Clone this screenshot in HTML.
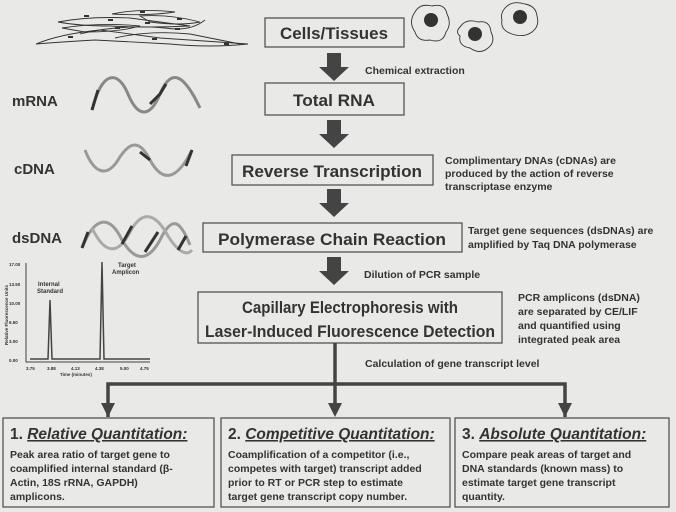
<!DOCTYPE html>
<html><head><meta charset="utf-8"><style>
body{margin:0;background:#fff}
svg{display:block}
text{font-family:"Liberation Sans",Arial,sans-serif;fill:#333;font-weight:bold}
</style></head><body>
<svg width="676" height="512" viewBox="0 0 676 512" xmlns="http://www.w3.org/2000/svg">
<rect width="676" height="512" fill="#e9e9e7"/>
<!-- cell sheet -->
<g fill="none" stroke="#333" stroke-width="0.9">
<path d="M36,44 Q60,34 100,30 Q130,34 160,38 Q190,40 248,44 Q210,48 170,44 Q130,42 95,40 Q60,42 36,44Z"/>
<path d="M58,22 Q90,16 130,18 Q160,22 190,26 Q150,28 110,26 Q80,26 58,22Z"/>
<path d="M62,28 Q100,22 140,26 Q120,32 85,32Z"/>
<path d="M112,14 Q140,8 175,12 Q150,16 112,14Z"/>
<path d="M115,38 Q150,30 190,34 Q220,40 240,44"/>
<path d="M80,34 Q120,24 165,28 Q190,32 205,20"/>
<path d="M140,16 Q170,14 200,22 Q180,26 150,22Z"/>
</g>
<g fill="#333"><rect x="68" y="36" width="5" height="2"/><rect x="84" y="15" width="5" height="2"/><rect x="108" y="19" width="5" height="2"/><rect x="140" y="11" width="5" height="2"/><rect x="145" y="22" width="5" height="2"/><rect x="115" y="27" width="5" height="2"/><rect x="175" y="28" width="5" height="2"/><rect x="152" y="38" width="5" height="2"/><rect x="177" y="18" width="5" height="2"/><rect x="224" y="43" width="5" height="2"/></g>
<!-- round cells -->
<g fill="none" stroke="#333" stroke-width="0.9">
<path d="M415,12 Q420,3 432,6 Q445,3 447,14 Q452,24 446,32 Q443,44 430,40 Q418,42 415,32 Q408,22 415,12Z"/>
<path d="M460,27 Q466,18 478,22 Q490,20 491,32 Q496,42 488,48 Q480,55 470,48 Q458,46 460,36 Q455,32 460,27Z"/>
<path d="M505,8 Q512,0 525,4 Q536,6 537,16 Q540,26 532,32 Q524,38 512,34 Q500,30 502,20 Q500,14 505,8Z"/>
</g>
<circle cx="431" cy="20" r="7" fill="#333"/><circle cx="475" cy="34" r="7" fill="#333"/><circle cx="520" cy="17" r="7" fill="#333"/>
<!-- waves -->
<g fill="none" stroke-width="3">
<path d="M92,110 C102,70 118,70 128,94 C138,118 150,118 160,94 C170,70 182,70 200,108" stroke="#888"/>
<path d="M92,110 L98,90 M150,104 L160,94 L166,84" stroke="#333"/>
<path d="M85,150 C95,176 108,176 118,160 C130,140 140,140 150,160 C162,182 176,182 192,150" stroke="#999"/>
<path d="M140,152 L150,160 M186,166 L192,150" stroke="#333"/>
<path d="M82,248 C95,215 110,215 122,240 C135,262 148,262 160,240 C172,215 180,220 190,245" stroke="#999"/>
<path d="M92,228 C105,255 118,255 130,232 C142,210 155,212 168,236 C180,255 188,255 192,250" stroke="#aaa"/>
<path d="M82,248 L88,232 M122,244 L132,226 M145,252 L158,232 M178,250 L186,236" stroke="#333"/>
</g>
<text x="12" y="106" font-size="15">mRNA</text>
<text x="14" y="174" font-size="15">cDNA</text>
<text x="12" y="243" font-size="15">dsDNA</text>
<!-- boxes -->
<g fill="none" stroke="#555" stroke-width="1.3">
<rect x="265" y="18" width="139" height="29"/>
<rect x="265" y="83" width="139" height="32"/>
<rect x="232" y="155" width="201" height="30"/>
<rect x="203" y="223" width="259" height="29"/>
<rect x="198" y="292" width="304" height="51"/>
<rect x="3" y="418" width="211" height="89"/>
<rect x="221" y="418" width="229" height="89"/>
<rect x="455" y="418" width="214" height="89"/>
</g>
<g font-size="17" text-anchor="middle">
<text x="334" y="39" textLength="108" lengthAdjust="spacingAndGlyphs">Cells/Tissues</text>
<text x="334" y="106" textLength="82" lengthAdjust="spacingAndGlyphs">Total RNA</text>
<text x="332" y="177" textLength="180" lengthAdjust="spacingAndGlyphs">Reverse Transcription</text>
<text x="332" y="245" textLength="228" lengthAdjust="spacingAndGlyphs">Polymerase Chain Reaction</text>
<text x="350" y="313" textLength="216" lengthAdjust="spacingAndGlyphs">Capillary Electrophoresis with</text>
<text x="350" y="337" textLength="290" lengthAdjust="spacingAndGlyphs">Laser-Induced Fluorescence Detection</text>
</g>
<!-- arrows -->
<g fill="#444">
<path d="M327,53 h14 v14 h8 l-15,14 l-15,-14 h8z"/>
<path d="M327,120 h14 v14 h8 l-15,14 l-15,-14 h8z"/>
<path d="M327,189 h14 v14 h8 l-15,14 l-15,-14 h8z"/>
<path d="M327,257 h14 v14 h8 l-15,14 l-15,-14 h8z"/>
</g>
<g stroke="#444" stroke-width="3.5" fill="none">
<path d="M335,343 V384 M108,417 V384 H565 V417 M335,384 V410"/>
</g>
<g fill="#444">
<path d="M101,403 h14 l-7,14z"/><path d="M328,403 h14 l-7,14z"/><path d="M558,403 h14 l-7,14z"/>
</g>
<g font-size="10.5">
<text x="365" y="74">Chemical extraction</text>
<text x="445" y="164">Complimentary DNAs (cDNAs) are</text>
<text x="445" y="177">produced by the action of reverse</text>
<text x="445" y="190">transcriptase enzyme</text>
<text x="468" y="234">Target gene sequences (dsDNAs) are</text>
<text x="468" y="248">amplified by Taq DNA polymerase</text>
<text x="364" y="278">Dilution of PCR sample</text>
<text x="518" y="301">PCR amplicons (dsDNA)</text>
<text x="518" y="315">are separated by CE/LIF</text>
<text x="518" y="329">and quantified using</text>
<text x="518" y="343">integrated peak area</text>
<text x="365" y="367">Calculation of gene transcript level</text>
</g>
<!-- chart -->
<g stroke="#444" fill="none" stroke-width="1">
<path d="M26,263 V362 H150"/>
<path d="M30,359 H48 L50,300 L52,359 H100 L102,262 L104,359 H150" stroke-width="1.5"/>
</g>
<g font-size="4.5" font-weight="normal">
<text x="9" y="266">17.00</text><text x="9" y="286">13.50</text><text x="9" y="305">10.00</text><text x="9" y="324">6.50</text><text x="9" y="343">3.00</text><text x="9" y="362">0.00</text>
<text x="26" y="370">3.75</text><text x="47" y="370">3.88</text><text x="71" y="370">4.13</text><text x="95" y="370">4.38</text><text x="120" y="370">5.00</text><text x="140" y="370">4.75</text>
<text x="60" y="376">Time (minutes)</text>
<text x="38" y="286" font-size="6">Internal</text><text x="37" y="293" font-size="6">Standard</text>
<text x="118" y="267" font-size="6">Target</text><text x="112" y="274" font-size="6">Amplicon</text>
</g>
<text x="8" y="345" font-size="4.5" font-weight="normal" transform="rotate(-90 8 345)">Relative Fluorescence Units</text>
<!-- bottom titles -->
<g font-size="15.5" font-weight="normal">
<text x="10" y="439">1. <tspan font-style="italic" text-decoration="underline">Relative Quantitation:</tspan></text>
<text x="228" y="439">2. <tspan font-style="italic" text-decoration="underline">Competitive Quantitation:</tspan></text>
<text x="462" y="439">3. <tspan font-style="italic" text-decoration="underline">Absolute Quantitation:</tspan></text>
</g>
<g font-size="10.5">
<text x="10" y="458">Peak area ratio of target gene to</text>
<text x="10" y="472">coamplified internal standard (β-</text>
<text x="10" y="486">Actin, 18S rRNA, GAPDH)</text>
<text x="10" y="500">amplicons.</text>
<text x="228" y="458">Coamplification of a competitor (i.e.,</text>
<text x="228" y="472">competes with target) transcript added</text>
<text x="228" y="486">prior to RT or PCR step to estimate</text>
<text x="228" y="500">target gene transcript copy number.</text>
<text x="462" y="458">Compare peak areas of target and</text>
<text x="462" y="472">DNA standards (known mass) to</text>
<text x="462" y="486">estimate target gene transcript</text>
<text x="462" y="500">quantity.</text>
</g>
</svg>
</body></html>
